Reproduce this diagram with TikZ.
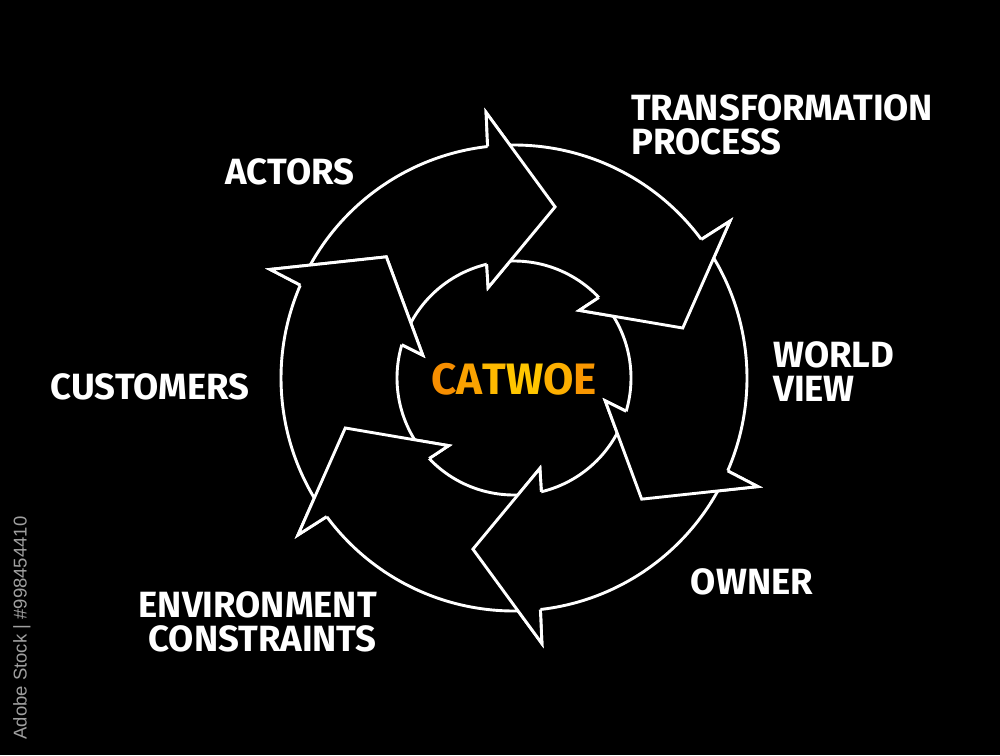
\documentclass[tikz,border=0pt]{standalone}
\usepackage{fontspec}
\newfontfamily\markfont{Fira Sans}
\newfontfamily\wmfont{Liberation Sans}
\definecolor{catC}{RGB}{246,142,0}
\definecolor{catA}{RGB}{250,162,0}
\definecolor{catT}{RGB}{254,185,0}
\definecolor{catW}{RGB}{255,198,0}
\definecolor{catO}{RGB}{253,175,0}
\definecolor{catE}{RGB}{248,150,0}
\definecolor{wmgray}{RGB}{160,160,160}
\tikzset{
  ringshape/.style={fill=black, draw=white, line width=2.9pt, line join=miter},
  ringline/.style={draw=white, line width=2.9pt, line join=miter},
  lab/.style={text=white, inner sep=0pt, font=\markfont\bfseries\fontsize{36.5}{34}\selectfont},
}
\begin{document}
\begin{tikzpicture}[x=1pt,y=1pt]
\useasboundingbox (0,0) rectangle (1000,-755);
\fill[black] (0,0) rectangle (1000,-755);
% ring of six arrows
\begin{scope}[shift={(514,-378)}]
\foreach \k in {0,...,5}{
  \pgfmathsetmacro\t{76.5-60*\k}
  \pgfmathsetmacro\ta{\t+77}
  \pgfmathsetmacro\tb{\t+20}
  \pgfmathsetmacro\tc{\t+19.5}
  \pgfmathsetmacro\td{\t+29.5}
  \pgfmathsetmacro\te{\t+27}
  \filldraw[ringshape] (\ta:233) arc[start angle=\ta, end angle=\tb, radius=233]
     -- (\tc:267) -- (\t:176) -- (\td:94) -- (\te:117)
     arc[start angle=\te, end angle=\ta, radius=117] -- cycle;
}
\foreach \k in {0,...,5}{
  \pgfmathsetmacro\t{76.5-60*\k}
  \pgfmathsetmacro\tb{\t+20}
  \pgfmathsetmacro\tc{\t+19.5}
  \pgfmathsetmacro\td{\t+29.5}
  \pgfmathsetmacro\te{\t+27}
  \fill[black] (\tb:233) -- (\tc:267) -- (\t:176) -- (\td:94) -- (\te:117) -- cycle;
  \draw[ringline] (\tb:233) -- (\tc:267) -- (\t:176) -- (\td:94) -- (\te:117);
}
\end{scope}
% labels
\node[lab, anchor=north west, align=left] (tp) at (631,-94) {TRANSFORMATION\\PROCESS};
\node[lab] (ac) at (290,-172) {ACTORS};
\node[lab, anchor=north west, align=left] (wv) at (773,-341) {WORLD\\VIEW};
\node[lab] (cu) at (150,-387) {CUSTOMERS};
\node[lab] (ow) at (752,-582) {OWNER};
\node[lab, anchor=north east, align=right] (ec) at (377,-591) {ENVIRONMENT\\CONSTRAINTS};
\node[inner sep=0pt, font=\markfont\bfseries\fontsize{44}{46}\selectfont] (cw) at (514,-379)
  {\textcolor{catC}{C}\textcolor{catA}{A}\textcolor{catT}{T}\textcolor{catW}{W}\textcolor{catO}{O}\textcolor{catE}{E}};
\node[rotate=90, text=wmgray, inner sep=0pt, font=\wmfont\fontsize{18.5}{20}\selectfont] (wm) at (22,-628) {Adobe Stock | \#998454410};
\end{tikzpicture}
\end{document}
